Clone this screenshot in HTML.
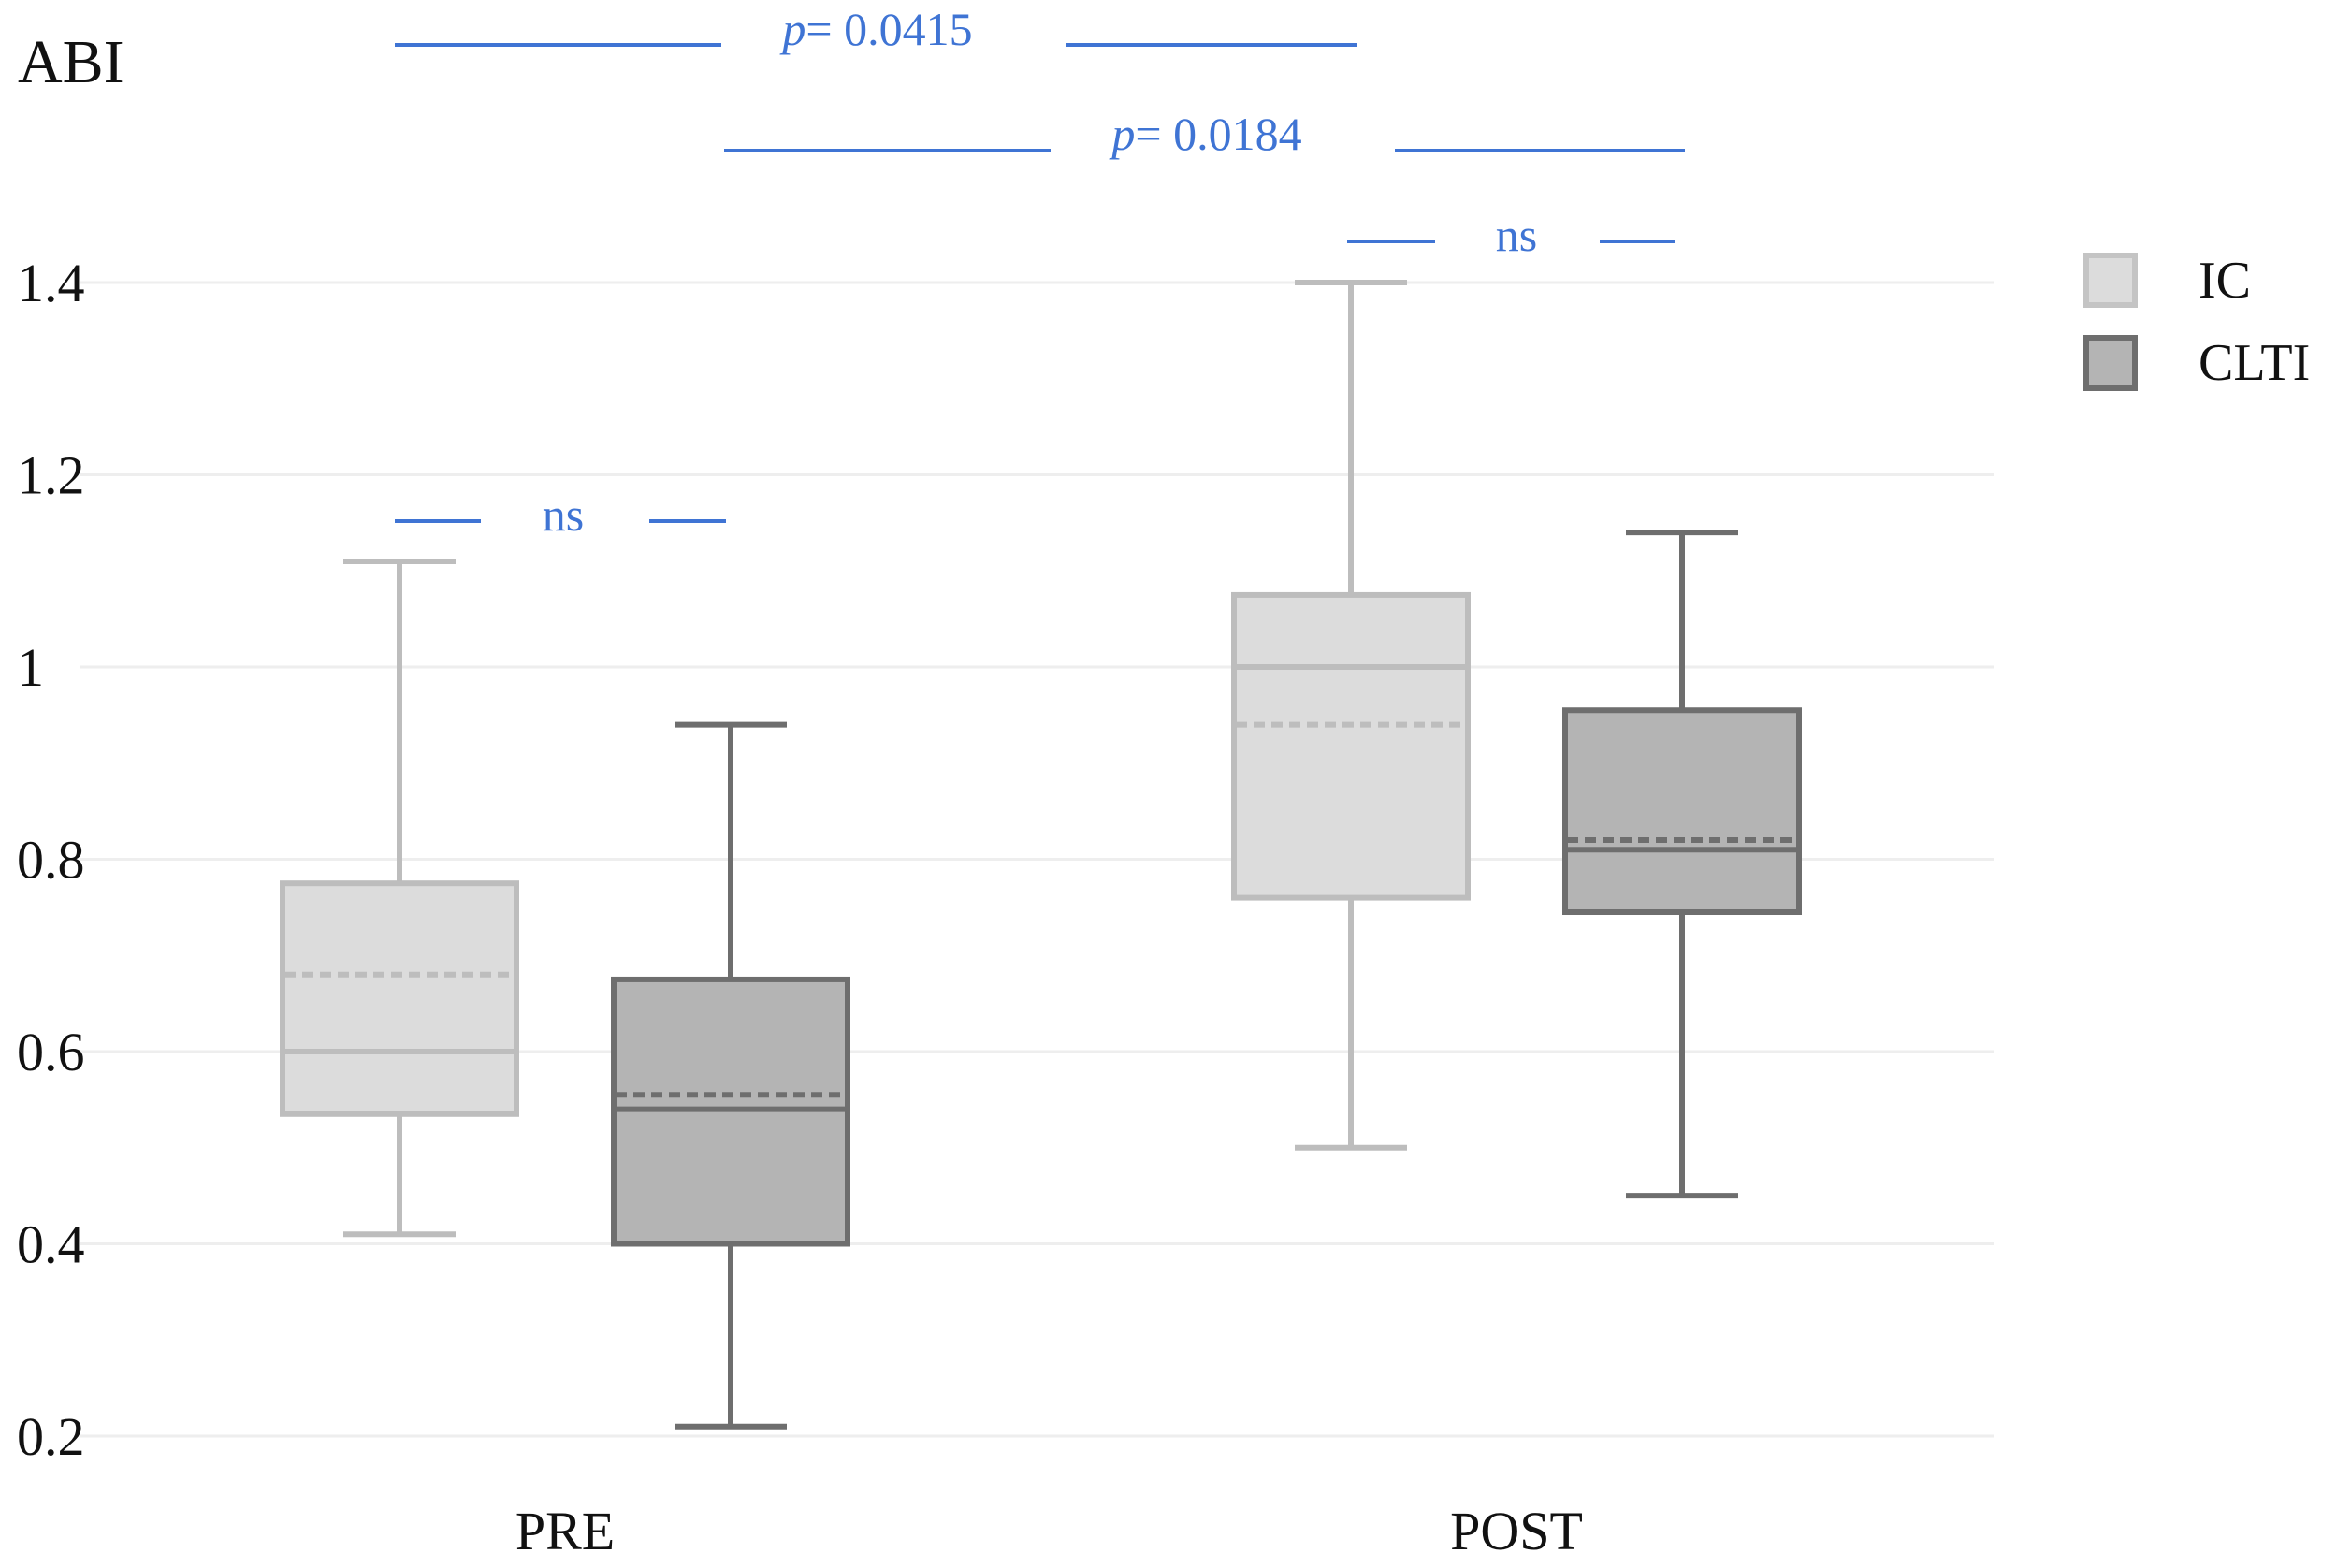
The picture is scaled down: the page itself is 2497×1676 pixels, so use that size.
<!DOCTYPE html>
<html><head><meta charset="utf-8"><style>
html,body{margin:0;padding:0;background:#fff;}
svg{display:block;font-family:"Liberation Serif",serif;}
</style></head><body>
<svg id="chart" width="2497" height="1676" viewBox="0 0 2497 1676" xmlns="http://www.w3.org/2000/svg">
<text x="19" y="88" font-size="66" fill="#111">ABI</text>
<g id="grid"></g><g id="boxes"></g><g id="annot"></g>
<g>
<rect x="2230" y="273" width="52" height="53" fill="#dcdcdc" stroke="#c4c4c4" stroke-width="6"/>
<text x="2350" y="318" font-size="56" fill="#111">IC</text>
<rect x="2230" y="361" width="52" height="54" fill="#b4b4b4" stroke="#6e6e6e" stroke-width="6"/>
<text x="2350" y="406" font-size="56" fill="#111">CLTI</text>
</g>
</svg>
<script>
const categories=["PRE","POST"];
const series=["IC","CLTI"];
const yTicks=[0.2,0.4,0.6,0.8,1,1.2,1.4];
const whiskLow=[[0.41,0.21],[0.50,0.45]];
const q1=[[0.535,0.40],[0.76,0.745]];
const medians=[[0.60,0.54],[1.0,0.81]];
const means=[[0.68,0.555],[0.94,0.82]];
const q3=[[0.775,0.675],[1.075,0.955]];
const whiskHigh=[[1.11,0.94],[1.40,1.14]];
const NS="http://www.w3.org/2000/svg";
const y=v=>302+(1.4-v)*1027.5;
const x=i=>604+i*1017;
function mk(p,tag,attrs){const e=document.createElementNS(NS,tag);for(const k in attrs)e.setAttribute(k,attrs[k]);p.appendChild(e);return e;}
const grid=document.getElementById('grid');
yTicks.forEach(t=>{
 const l=mk(grid,'line',{x1:85,x2:2131,y1:y(t),y2:y(t),stroke:'#eeeeee','stroke-width':3});
 
 
 const tx=mk(grid,'text',{x:18,y:y(t)+20,'font-size':58,fill:'#111'});
 tx.textContent=String(t);
 
 
});
categories.forEach((c,i)=>{
 const tx=mk(grid,'text',{x:x(i),y:1656,'font-size':58,fill:'#111','text-anchor':'middle'});
 tx.textContent=c;
 
 
});
const boxes=document.getElementById('boxes');
const fills=['#dcdcdc','#b4b4b4'],strokes=['#bdbdbd','#6e6e6e'],meanC=['#bdbdbd','#6e6e6e'];
categories.forEach((c,i)=>series.forEach((s,j)=>{
 const cx=x(i)+(j?177:-177);
 const g=mk(boxes,'g',{});
 
 
 const st={stroke:strokes[j],'stroke-width':6};
 mk(g,'line',Object.assign({x1:cx,x2:cx,y1:y(whiskHigh[i][j]),y2:y(q3[i][j])},st));
 mk(g,'line',Object.assign({x1:cx,x2:cx,y1:y(q1[i][j]),y2:y(whiskLow[i][j])},st));
 mk(g,'line',Object.assign({x1:cx-60,x2:cx+60,y1:y(whiskHigh[i][j]),y2:y(whiskHigh[i][j])},st));
 mk(g,'line',Object.assign({x1:cx-60,x2:cx+60,y1:y(whiskLow[i][j]),y2:y(whiskLow[i][j])},st));
 mk(g,'rect',Object.assign({x:cx-125,width:250,y:y(q3[i][j]),height:y(q1[i][j])-y(q3[i][j]),fill:fills[j]},st));
 mk(g,'line',Object.assign({x1:cx-123,x2:cx+123,y1:y(medians[i][j]),y2:y(medians[i][j])},st));
 mk(g,'line',{x1:cx-123,x2:cx+123,y1:y(means[i][j]),y2:y(means[i][j]),stroke:meanC[j],'stroke-width':6,'stroke-dasharray':'12 7'});
}));
const annot=document.getElementById('annot');
const ann=[
 {y:48,segs:[[422,771],[1140,1451]],tx:938,ty:48,label:'p',rest:'= 0.0415',name:'pvalue-pre-vs-post-ic'},
 {y:161,segs:[[774,1123],[1491,1801]],tx:1290,ty:160,label:'p',rest:'= 0.0184',name:'pvalue-pre-vs-post-clti'},
 {y:258,segs:[[1440,1534],[1710,1790]],tx:1621,ty:268,label:'',rest:'ns',name:'ns-post'},
 {y:557,segs:[[422,514],[694,776]],tx:602,ty:567,label:'',rest:'ns',name:'ns-pre'}
];
ann.forEach(a=>{
 const g=mk(annot,'g',{});
 
 
 a.segs.forEach(s=>mk(g,'line',{x1:s[0],x2:s[1],y1:a.y,y2:a.y,stroke:'#3f74d4','stroke-width':4}));
 const t=mk(g,'text',{x:a.tx,y:a.ty,'font-size':50,fill:'#3f74d4','text-anchor':'middle'});
 if(a.label){const ts=mk(t,'tspan',{'font-style':'italic'});ts.textContent=a.label;}
 const r=mk(t,'tspan',{});r.textContent=a.rest;
});
</script>
</body></html>
